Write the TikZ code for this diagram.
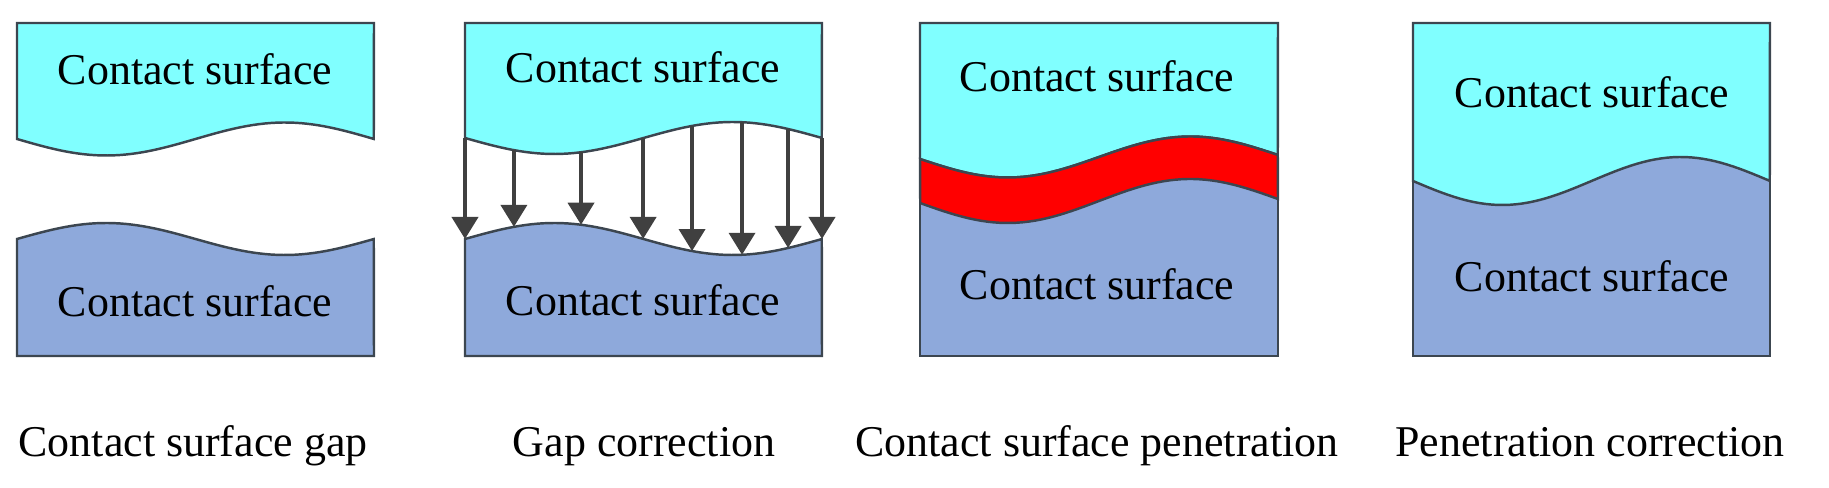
\documentclass[tikz,border=0pt]{standalone}
\usepackage{fontspec}
\setmainfont{Liberation Serif}
\usetikzlibrary{arrows.meta}
\definecolor{SurfCyan}{HTML}{80FFFF}
\definecolor{SurfBlue}{HTML}{8EA9DB}
\definecolor{SurfRed}{HTML}{FF0000}
\definecolor{EdgeDark}{HTML}{3C4650}
\definecolor{ArrowDark}{HTML}{404040}
\tikzset{
  upperpart/.style={fill=SurfCyan, draw=EdgeDark, line width=0.7pt},
  lowerpart/.style={fill=SurfBlue, draw=EdgeDark, line width=0.7pt},
  overlap/.style={fill=SurfRed, draw=EdgeDark, line width=0.7pt},
  frame/.style={draw=EdgeDark, line width=0.7pt},
  pusharrow/.style={draw=ArrowDark, line width=1.1pt, -{Triangle[width=2.6mm,length=2.2mm]}},
  surftext/.style={anchor=base, text=black},
  captext/.style={anchor=base, text=black}
}

\begin{document}
\begin{tikzpicture}[every node/.style={font=\fontsize{12.5}{15}\selectfont, inner sep=0pt}]
      \useasboundingbox (0,0) rectangle (18.29,4.88);
      % contact surface gap
      \draw[upperpart] (0.17,4.65) -- (0.17,3.49) -- plot[variable=\t,domain=0:1,samples=60] ({0.17+3.57*\t},{3.49-0.165*sin(360*\t)}) -- (3.74,4.65) -- cycle;
      \draw[lowerpart] (0.17,1.32) -- (0.17,2.49) -- plot[variable=\t,domain=0:1,samples=60] ({0.17+3.57*\t},{2.49+0.16*sin(360*\t)}) -- (3.74,1.32) -- cycle;
      \node[surftext] (gapTop) at (1.95,4.03) {Contact surface};
      \node[surftext] (gapBot) at (1.95,1.71) {Contact surface};
      % gap correction
      \draw[upperpart] (4.65,4.65) -- (4.65,3.50) -- plot[variable=\t,domain=0:1,samples=60] ({4.65+3.57*\t},{3.50-0.16*sin(360*\t)}) -- (8.22,4.65) -- cycle;
      \draw[lowerpart] (4.65,1.32) -- (4.65,2.49) -- plot[variable=\t,domain=0:1,samples=60] ({4.65+3.57*\t},{2.49+0.16*sin(360*\t)}) -- (8.22,1.32) -- cycle;
      \foreach \f [count=\i] in {0,0.137,0.325,0.499,0.636,0.776,0.905,1}{
        \coordinate (fixUp\i) at ({4.65+3.57*\f},{3.50-0.16*sin(360*\f)});
        \coordinate (fixLo\i) at ({4.65+3.57*\f},{2.49+0.16*sin(360*\f)});
        \draw[pusharrow] (fixUp\i) -- (fixLo\i);
      }
      \node[surftext] (fixTop) at (6.43,4.05) {Contact surface};
      \node[surftext] (fixBot) at (6.43,1.72) {Contact surface};
      % contact surface penetration
      \fill[SurfBlue] (9.20,1.32) rectangle (12.78,4.65);
      \draw[upperpart] (9.20,4.65) -- (9.20,3.29) -- plot[variable=\t,domain=0:1,samples=60] ({9.20+3.58*\t},{3.31+0.04*(\t-0.5)-0.195*sin(360*\t)}) -- (12.78,4.65) -- cycle;
      \draw[overlap] plot[variable=\t,domain=0:1,samples=60] ({9.20+3.58*\t},{3.31+0.04*(\t-0.5)-0.195*sin(360*\t)})
        -- plot[variable=\t,domain=1:0,samples=60] ({9.20+3.58*\t},{2.87+0.04*(\t-0.5)-0.21*sin(360*\t)}) -- cycle;
      \draw[frame] (9.20,1.32) rectangle (12.78,4.65);
      \node[surftext] (penTop) at (10.97,3.96) {Contact surface};
      \node[surftext] (penBot) at (10.97,1.88) {Contact surface};
      % penetration correction
      \draw[lowerpart] (14.13,1.32) rectangle (17.70,4.65);
      \draw[upperpart] (14.13,4.65) -- (14.13,3.07) -- plot[variable=\t,domain=0:1,samples=60] ({14.13+3.57*\t},{3.07-0.24*sin(360*\t)}) -- (17.70,4.65) -- cycle;
      \node[surftext] (endTop) at (15.92,3.80) {Contact surface};
      \node[surftext] (endBot) at (15.92,1.96) {Contact surface};
      % captions
      \node[captext] (capGap) at (1.93,0.31) {Contact surface gap};
      \node[captext] (capFix) at (6.44,0.31) {Gap correction};
      \node[captext] (capPen) at (10.97,0.31) {Contact surface penetration};
      \node[captext] (capEnd) at (15.90,0.31) {Penetration correction};
    \end{tikzpicture}
\end{document}
